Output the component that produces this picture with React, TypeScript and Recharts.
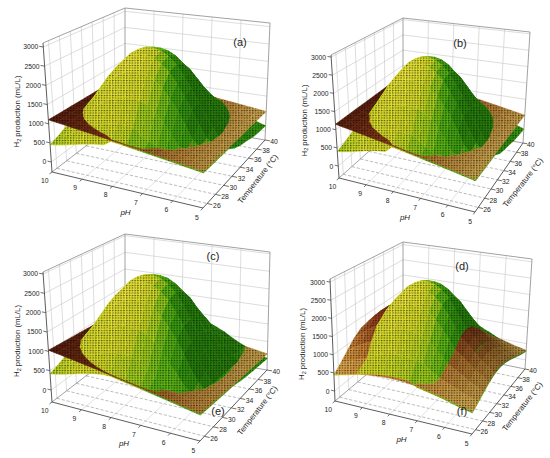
import React from 'react';
import { ScatterChart, Scatter, XAxis, YAxis } from 'recharts';

// ---------------- data ----------------
const PH_GRID = [5, 5.25, 5.5, 5.75, 6, 6.25, 6.5, 6.75, 7, 7.25, 7.5, 7.75, 8, 8.25, 8.5, 8.75, 9, 9.25, 9.5, 9.75, 10];
const T_GRID = [25, 26.5, 28, 29.5, 31, 32.5, 34, 35.5, 37, 38.5, 40];
const Z_TICKS = [0, 500, 1000, 1500, 2000, 2500, 3000];
const PH_TICKS = [10, 9, 8, 7, 6, 5];
const T_TICKS = [26, 28, 30, 32, 34, 36, 38, 40];

// flat comparison planes: rows [T=25, T=40], columns [pH=5, pH=10]  (mL/L)
const PLANE_CORNER_PH = [5, 10];
const PLANE_CORNER_T = [25, 40];
const PLANE_A = [[610, 1100], [560, 1050]];
const PLANE_B = [[480, 1150], [520, 1190]];
const PLANE_C = [[320, 1030], [150, 860]];

// fitted surfaces: rows follow T_GRID, columns follow PH_GRID  (mL/L)
const GREEN_A = [
  [580, 605, 629, 654, 678, 703, 727, 752, 776, 801, 825, 850, 874, 741, 718, 681, 636, 583, 530, 485, 448],
  [575, 600, 624, 649, 673, 698, 722, 780, 900, 1000, 1163, 1179, 1179, 1147, 1099, 1019, 923, 811, 700, 604, 524],
  [570, 595, 619, 644, 668, 760, 1000, 1280, 1480, 1630, 1716, 1743, 1743, 1688, 1607, 1470, 1307, 1116, 925, 762, 625],
  [565, 590, 614, 638, 800, 1150, 1480, 1760, 2000, 2173, 2268, 2307, 2307, 2230, 2114, 1922, 1690, 1421, 1151, 920, 727],
  [560, 585, 609, 720, 1030, 1390, 1720, 2020, 2298, 2479, 2591, 2636, 2636, 2546, 2410, 2185, 1914, 1598, 1282, 1012, 786],
  [420, 480, 576, 828, 1126, 1462, 1797, 2099, 2378, 2566, 2683, 2730, 2730, 2636, 2495, 2260, 1978, 1649, 1320, 1038, 803],
  [330, 420, 557, 799, 1084, 1404, 1724, 2012, 2278, 2457, 2568, 2613, 2613, 2523, 2389, 2166, 1898, 1586, 1273, 1005, 782],
  [280, 348, 501, 710, 957, 1232, 1506, 1751, 1978, 2129, 2222, 2260, 2260, 2185, 2072, 1884, 1658, 1395, 1132, 906, 718],
  [202, 296, 418, 581, 771, 978, 1185, 1369, 1539, 1648, 1716, 1743, 1743, 1688, 1607, 1470, 1307, 1116, 925, 762, 625],
  [171, 245, 335, 452, 585, 725, 865, 986, 1099, 1167, 1209, 1226, 1226, 1192, 1141, 1057, 955, 837, 718, 617, 532],
  [148, 207, 275, 358, 449, 540, 631, 708, 780, 817, 841, 850, 850, 831, 803, 756, 700, 634, 568, 512, 465],
];
const GREEN_B = [
  [450, 484, 517, 551, 584, 618, 651, 685, 718, 752, 785, 819, 852, 691, 668, 631, 586, 533, 480, 435, 398],
  [454, 488, 521, 555, 588, 621, 655, 740, 870, 980, 1113, 1129, 1129, 1097, 1049, 969, 873, 761, 650, 554, 474],
  [458, 492, 525, 559, 592, 700, 950, 1250, 1450, 1580, 1666, 1693, 1693, 1638, 1557, 1420, 1257, 1066, 875, 712, 575],
  [462, 496, 529, 562, 760, 1110, 1440, 1710, 1950, 2123, 2218, 2257, 2257, 2180, 2064, 1872, 1640, 1371, 1101, 870, 677],
  [466, 500, 533, 680, 990, 1340, 1670, 1970, 2248, 2429, 2541, 2586, 2586, 2496, 2360, 2135, 1864, 1548, 1232, 962, 736],
  [330, 420, 526, 778, 1076, 1412, 1747, 2049, 2328, 2516, 2633, 2680, 2680, 2586, 2445, 2210, 1928, 1599, 1270, 988, 753],
  [270, 360, 507, 749, 1034, 1354, 1674, 1962, 2228, 2407, 2518, 2563, 2563, 2473, 2339, 2116, 1848, 1536, 1223, 955, 732],
  [220, 298, 451, 660, 907, 1182, 1456, 1701, 1928, 2079, 2172, 2210, 2210, 2135, 2022, 1834, 1608, 1345, 1082, 856, 668],
  [152, 246, 368, 531, 721, 928, 1135, 1319, 1489, 1598, 1666, 1693, 1693, 1638, 1557, 1420, 1257, 1066, 875, 712, 575],
  [121, 195, 285, 402, 535, 675, 815, 936, 1049, 1117, 1159, 1176, 1176, 1142, 1091, 1007, 905, 787, 668, 567, 482],
  [98, 157, 225, 308, 399, 490, 581, 658, 730, 767, 791, 800, 800, 781, 753, 706, 650, 584, 518, 462, 415],
];
const GREEN_C = [
  [290, 326, 361, 397, 432, 468, 503, 539, 574, 610, 645, 681, 716, 711, 688, 651, 606, 553, 500, 455, 418],
  [273, 309, 344, 380, 415, 450, 560, 720, 880, 1000, 1133, 1149, 1149, 1117, 1069, 989, 893, 781, 670, 574, 494],
  [256, 292, 327, 362, 520, 760, 1000, 1260, 1460, 1600, 1686, 1713, 1713, 1658, 1577, 1440, 1277, 1086, 895, 732, 595],
  [239, 275, 310, 480, 760, 1120, 1450, 1730, 1970, 2143, 2238, 2277, 2277, 2200, 2084, 1892, 1660, 1391, 1121, 890, 697],
  [222, 257, 330, 560, 900, 1300, 1660, 1980, 2268, 2449, 2561, 2606, 2606, 2516, 2380, 2155, 1884, 1568, 1252, 982, 756],
  [205, 240, 320, 600, 960, 1360, 1730, 2050, 2348, 2536, 2653, 2700, 2700, 2606, 2465, 2230, 1948, 1619, 1290, 1008, 773],
  [150, 223, 300, 560, 900, 1300, 1660, 1960, 2248, 2427, 2538, 2583, 2583, 2493, 2359, 2136, 1868, 1556, 1243, 975, 752],
  [110, 190, 270, 480, 780, 1130, 1440, 1700, 1948, 2099, 2192, 2230, 2230, 2155, 2042, 1854, 1628, 1365, 1102, 876, 688],
  [80, 160, 240, 380, 600, 880, 1120, 1320, 1509, 1618, 1686, 1713, 1713, 1658, 1577, 1440, 1277, 1086, 895, 732, 595],
  [50, 130, 210, 300, 440, 620, 800, 940, 1069, 1137, 1179, 1196, 1196, 1162, 1111, 1027, 925, 807, 688, 587, 502],
  [20, 100, 180, 250, 340, 450, 570, 665, 750, 787, 811, 820, 820, 801, 773, 726, 670, 604, 538, 482, 435],
];
const GREEN_D = [
  [265, 305, 344, 395, 445, 488, 529, 567, 603, 730, 748, 756, 756, 741, 718, 681, 636, 583, 530, 485, 448],
  [355, 419, 483, 564, 645, 716, 835, 951, 1059, 1123, 1163, 1179, 1179, 1147, 1099, 1019, 923, 811, 700, 604, 524],
  [460, 553, 646, 764, 881, 984, 1185, 1369, 1539, 1648, 1716, 1743, 1743, 1688, 1607, 1470, 1307, 1116, 925, 762, 625],
  [564, 686, 807, 960, 1114, 1255, 1535, 1786, 2018, 2173, 2268, 2307, 2307, 2230, 2114, 1922, 1690, 1421, 1151, 920, 727],
  [641, 784, 926, 1106, 1286, 1442, 1739, 2029, 2298, 2479, 2591, 2636, 2636, 2546, 2410, 2185, 1914, 1598, 1282, 1012, 786],
  [670, 820, 970, 1160, 1350, 1515, 1797, 2099, 2378, 2566, 2683, 2730, 2730, 2636, 2495, 2260, 1978, 1649, 1320, 1038, 803],
  [641, 784, 926, 1106, 1286, 1442, 1724, 2012, 2278, 2457, 2568, 2613, 2613, 2523, 2389, 2166, 1898, 1586, 1273, 1005, 782],
  [564, 686, 807, 960, 1114, 1247, 1506, 1751, 1978, 2129, 2222, 2260, 2260, 2185, 2072, 1884, 1658, 1395, 1132, 906, 718],
  [460, 553, 646, 764, 881, 984, 1185, 1369, 1539, 1648, 1716, 1743, 1743, 1688, 1607, 1470, 1307, 1116, 925, 762, 625],
  [355, 419, 483, 564, 645, 716, 865, 986, 1099, 1167, 1209, 1226, 1226, 1192, 1141, 1057, 955, 837, 718, 617, 532],
  [265, 305, 344, 395, 445, 540, 631, 708, 780, 817, 841, 850, 850, 831, 803, 756, 700, 634, 568, 512, 465],
];
const BROWN_D = [
  [295, 335, 374, 425, 475, 518, 559, 597, 633, 658, 678, 687, 691, 683, 670, 650, 625, 588, 546, 496, 440],
  [385, 449, 513, 594, 675, 746, 812, 874, 931, 972, 1004, 1019, 1025, 1013, 991, 959, 919, 859, 791, 709, 620],
  [490, 583, 676, 794, 911, 1014, 1109, 1199, 1283, 1342, 1388, 1410, 1419, 1400, 1369, 1323, 1264, 1178, 1079, 961, 831],
  [594, 716, 837, 990, 1144, 1277, 1402, 1520, 1629, 1705, 1766, 1794, 1806, 1782, 1742, 1681, 1604, 1491, 1362, 1208, 1039],
  [671, 814, 956, 1136, 1316, 1472, 1619, 1757, 1885, 1975, 2046, 2079, 2093, 2065, 2018, 1946, 1856, 1724, 1572, 1392, 1193],
  [700, 850, 1000, 1190, 1380, 1545, 1700, 1845, 1980, 2075, 2150, 2185, 2200, 2170, 2120, 2045, 1950, 1810, 1650, 1460, 1250],
  [671, 814, 956, 1136, 1316, 1472, 1619, 1757, 1885, 1975, 2046, 2079, 2093, 2065, 2018, 1946, 1856, 1724, 1572, 1392, 1193],
  [594, 716, 837, 990, 1144, 1277, 1402, 1520, 1629, 1705, 1766, 1794, 1806, 1782, 1742, 1681, 1604, 1491, 1362, 1208, 1039],
  [490, 583, 676, 794, 911, 1014, 1109, 1199, 1283, 1342, 1388, 1410, 1419, 1400, 1369, 1323, 1264, 1178, 1079, 961, 831],
  [385, 449, 513, 594, 675, 746, 812, 874, 931, 972, 1004, 1019, 1025, 1013, 991, 959, 919, 859, 791, 709, 620],
  [295, 335, 374, 425, 475, 518, 559, 597, 633, 658, 678, 687, 691, 683, 670, 650, 625, 588, 546, 496, 440],
];

// ---------------- layout (view geometry of each panel) ----------------
type Pt = [number, number];
interface Geo { floor: Pt[]; top: Pt[]; zmin: number; zmax: number; }
const W = 550;
const H = 458;
const FONT = "'Liberation Sans', Arial, sans-serif";

// box corner order: (pH10,T25) (pH5,T25) (pH5,T40) (pH10,T40)
const GEO_A: Geo = { floor: [[52, 172], [203, 208], [265, 140], [125, 116]], top: [[43, 43], [205, 68], [270, 23], [125, 8]], zmin: -261, zmax: 3104 };
const GEO_B: Geo = { floor: [[339, 178], [475, 212], [523, 143], [403, 121]], top: [[331, 55], [477, 77], [530, 32], [403, 18]], zmin: -330, zmax: 3056 };
const GEO_C: Geo = { floor: [[52, 402], [200, 441], [267, 370], [125, 346]], top: [[43, 272], [202, 296], [270, 252], [125, 234]], zmin: -310, zmax: 3050 };
const GEO_D: Geo = { floor: [[335, 401], [472, 434], [525, 369], [403, 344]], top: [[330, 279], [474, 303], [532, 259], [403, 242]], zmin: -275, zmax: 3084 };

// a plane given by its corner values is one flat sheet, cut along the grid only for depth sorting
function planeSheet(c: number[][]): number[][] {
  return T_GRID.map((t) => {
    const a = (t - PLANE_CORNER_T[0]) / (PLANE_CORNER_T[1] - PLANE_CORNER_T[0]);
    return PH_GRID.map((ph) => {
      const b = (ph - PLANE_CORNER_PH[0]) / (PLANE_CORNER_PH[1] - PLANE_CORNER_PH[0]);
      return (c[0][0] * (1 - b) + c[0][1] * b) * (1 - a) + (c[1][0] * (1 - b) + c[1][1] * b) * a;
    });
  });
}

interface PanelDef { geo: Geo; green: number[][]; brown: number[][]; tag: string; tagPos: Pt; extra?: { text: string; pos: Pt }; }

const PANELS: PanelDef[] = [
  { geo: GEO_A, green: GREEN_A, brown: planeSheet(PLANE_A), tag: '(a)', tagPos: [240, 42] },
  { geo: GEO_B, green: GREEN_B, brown: planeSheet(PLANE_B), tag: '(b)', tagPos: [460, 43] },
  { geo: GEO_C, green: GREEN_C, brown: planeSheet(PLANE_C), tag: '(c)', tagPos: [213, 256], extra: { text: '(e)', pos: [218, 411] } },
  { geo: GEO_D, green: GREEN_D, brown: BROWN_D, tag: '(d)', tagPos: [462, 266], extra: { text: '(f)', pos: [462, 411] } },
];

// ---------------- projection helpers ----------------
const uOf = (ph: number) => (10 - ph) / 5;
const vOf = (t: number) => (t - 25) / 15;
const wOf = (g: Geo, z: number) => (z - g.zmin) / (g.zmax - g.zmin);

function bil(c: Pt[], u: number, v: number): Pt {
  const a = (1 - u) * (1 - v), b = u * (1 - v), cc = u * v, d = (1 - u) * v;
  return [
    c[0][0] * a + c[1][0] * b + c[2][0] * cc + c[3][0] * d,
    c[0][1] * a + c[1][1] * b + c[2][1] * cc + c[3][1] * d,
  ];
}
function P(g: Geo, u: number, v: number, w: number): Pt {
  const f = bil(g.floor, u, v);
  const t = bil(g.top, u, v);
  return [f[0] + (t[0] - f[0]) * w, f[1] + (t[1] - f[1]) * w];
}

type RGB = number[];
function ramp(stops: [number, RGB][], t: number): RGB {
  if (t <= stops[0][0]) return stops[0][1];
  for (let i = 1; i < stops.length; i++) {
    if (t <= stops[i][0]) {
      const [t0, c0] = stops[i - 1];
      const [t1, c1] = stops[i];
      const k = (t - t0) / (t1 - t0);
      return c0.map((v, j) => v + (c1[j] - v) * k);
    }
  }
  return stops[stops.length - 1][1];
}
const rgb = (c: RGB, f = 1) => `rgb(${c.map((v) => Math.max(0, Math.min(255, Math.round(v * f)))).join(',')})`;

const GREEN_STOPS: [number, RGB][] = [
  [0.1, [38, 124, 12]], [0.3, [56, 156, 16]], [0.48, [96, 186, 22]], [0.64, [164, 208, 30]], [0.8, [214, 220, 40]], [1, [234, 228, 58]],
];
const BROWN_STOPS: [number, RGB][] = [
  [0, [210, 172, 82]], [0.35, [180, 118, 48]], [0.65, [132, 58, 24]], [1, [88, 28, 12]],
];
const LIGHT = (() => { const l = [-0.42, -0.62, 0.66]; const n = Math.hypot(l[0], l[1], l[2]); return l.map((x) => x / n); })();

interface Seg { x: number; y: number; dx: number; dy: number; stroke: string; w: number; dash?: string; }
interface Lbl { x: number; y: number; text: string; size: number; anchor: string; rot?: number; italic?: boolean; sub?: boolean; }
interface Quad { x: number; y: number; pts: Pt[]; fill: string; depth: number; }
interface Vtx { u: number; v: number; zg: number; zb: number; d: number; }

const seg = (a: Pt, b: Pt, stroke: string, w: number, dash?: string): Seg => ({ x: a[0], y: a[1], dx: b[0] - a[0], dy: b[1] - a[1], stroke, w, dash });

// keep the part of a cell where (green - brown) has the wanted sign
function clipCell(vs: Vtx[], positive: boolean): Vtx[] {
  const inside = (q: Vtx) => (positive ? q.d >= 0 : q.d <= 0);
  const out: Vtx[] = [];
  for (let i = 0; i < vs.length; i++) {
    const a = vs[i];
    const b = vs[(i + 1) % vs.length];
    if (inside(a)) out.push(a);
    if (inside(a) !== inside(b)) {
      const t = a.d / (a.d - b.d);
      out.push({ u: a.u + (b.u - a.u) * t, v: a.v + (b.v - a.v) * t, zg: a.zg + (b.zg - a.zg) * t, zb: a.zb + (b.zb - a.zb) * t, d: 0 });
    }
  }
  return out;
}

function cellShade(g: Geo, vs: Vtx[], key: 'zg' | 'zb'): number {
  const x3 = vs.map((q) => [q.u * 166, q.v * 148, wOf(g, q[key]) * 150]);
  const d1 = [x3[2][0] - x3[0][0], x3[2][1] - x3[0][1], x3[2][2] - x3[0][2]];
  const d2 = [x3[3][0] - x3[1][0], x3[3][1] - x3[1][1], x3[3][2] - x3[1][2]];
  let n = [d1[1] * d2[2] - d1[2] * d2[1], d1[2] * d2[0] - d1[0] * d2[2], d1[0] * d2[1] - d1[1] * d2[0]];
  if (n[2] < 0) n = n.map((q) => -q);
  const nl = Math.hypot(n[0], n[1], n[2]) || 1;
  return (n[0] * LIGHT[0] + n[1] * LIGHT[1] + n[2] * LIGHT[2]) / nl;
}

function polyItem(g: Geo, vs: Vtx[], key: 'zg' | 'zb', fill: string): Quad | null {
  if (vs.length < 3) return null;
  const pts = vs.map((q) => P(g, q.u, q.v, wOf(g, q[key])));
  let area = 0;
  for (let i = 0; i < pts.length; i++) { const a = pts[i], b = pts[(i + 1) % pts.length]; area += a[0] * b[1] - b[0] * a[1]; }
  if (Math.abs(area) < 0.02) return null;
  const n = vs.length;
  const cu = vs.reduce((s, q) => s + q.u, 0) / n;
  const cv = vs.reduce((s, q) => s + q.v, 0) / n;
  const cw = vs.reduce((s, q) => s + wOf(g, q[key]), 0) / n;
  const x = pts.reduce((s, p) => s + p[0], 0) / n;
  const y = pts.reduce((s, p) => s + p[1], 0) / n;
  return { x, y, pts, fill, depth: -0.51 * cu + cv - 0.57 * cw };
}

function buildQuads(g: Geo, green: number[][], brown: number[][]): Quad[] {
  const out: Quad[] = [];
  const gl = Math.min(...green.flat()), gh = Math.max(...green.flat());
  const bl = Math.min(...brown.flat()), bh = Math.max(...brown.flat());
  for (let i = 0; i < T_GRID.length - 1; i++) {
    for (let j = 0; j < PH_GRID.length - 1; j++) {
      const idx: [number, number][] = [[i, j], [i, j + 1], [i + 1, j + 1], [i + 1, j]];
      const vs: Vtx[] = idx.map(([a, b]) => ({ u: uOf(PH_GRID[b]), v: vOf(T_GRID[a]), zg: green[a][b], zb: brown[a][b], d: green[a][b] - brown[a][b] }));
      const gI = cellShade(g, vs, 'zg');
      const bI = cellShade(g, vs, 'zb');
      const gz = (vs.reduce((s, q) => s + q.zg, 0) / 4 - gl) / (gh - gl || 1);
      const bz = (vs.reduce((s, q) => s + q.zb, 0) / 4 - bl) / (bh - bl || 1);
      const gFill = rgb(ramp(GREEN_STOPS, 0.78 * gI + 0.32 * gz - 0.05));
      const bFill = rgb(ramp(BROWN_STOPS, bz), 0.72 + 0.42 * Math.max(0, bI));
      const pos = clipCell(vs, true);
      const neg = clipCell(vs, false);
      const items = [
        polyItem(g, pos, 'zg', gFill),
        polyItem(g, neg, 'zg', gFill),
        polyItem(g, pos, 'zb', bFill),
        polyItem(g, neg, 'zb', bFill),
      ];
      for (const it of items) if (it) out.push(it);
    }
  }
  out.sort((a, b) => b.depth - a.depth);
  return out;
}

function buildBack(g: Geo): Seg[] {
  const s: Seg[] = [];
  const grid = '#c6c6c6';
  for (const t of T_TICKS) { const v = vOf(t); if (v < 1) s.push(seg(P(g, 0, v, 0), P(g, 0, v, 1), grid, 0.6)); }
  for (const z of Z_TICKS) {
    const w = wOf(g, z);
    s.push(seg(P(g, 0, 0, w), P(g, 0, 1, w), grid, 0.6));
    s.push(seg(P(g, 0, 1, w), P(g, 1, 1, w), grid, 0.6));
  }
  for (const ph of PH_TICKS) { const u = uOf(ph); if (u > 0 && u < 1) s.push(seg(P(g, u, 1, 0), P(g, u, 1, 1), grid, 0.6)); }
  for (const t of T_TICKS) { const v = vOf(t); if (v < 1) s.push(seg(P(g, 0, v, 0), P(g, 1, v, 0), '#8e8e8e', 0.6, '3.2 1.8')); }
  for (const ph of PH_TICKS) { const u = uOf(ph); if (u > 0 && u < 1) s.push(seg(P(g, u, 0, 0), P(g, u, 1, 0), '#cfcfcf', 0.6)); }
  const edge = '#8a8a8a';
  s.push(seg(P(g, 0, 1, 0), P(g, 0, 1, 1), edge, 0.8));
  s.push(seg(P(g, 1, 1, 0), P(g, 1, 1, 1), edge, 0.8));
  s.push(seg(P(g, 0, 0, 1), P(g, 0, 1, 1), edge, 0.8));
  s.push(seg(P(g, 0, 1, 1), P(g, 1, 1, 1), edge, 0.8));
  s.push(seg(P(g, 0, 0, 0), P(g, 0, 1, 0), edge, 0.8));
  s.push(seg(P(g, 0, 1, 0), P(g, 1, 1, 0), edge, 0.8));
  return s;
}

function buildFront(g: Geo): Seg[] {
  const s: Seg[] = [];
  const ax = '#4a4a4a';
  s.push(seg(P(g, 0, 0, 0), P(g, 0, 0, 1), ax, 0.9));
  s.push(seg(P(g, 0, 0, 0), P(g, 1, 0, 0), ax, 0.9));
  s.push(seg(P(g, 1, 0, 0), P(g, 1, 1, 0), ax, 0.9));
  for (const ph of PH_TICKS) { const u = uOf(ph); s.push(seg(P(g, u, 0, 0), P(g, u, -0.035, 0), ax, 0.8)); }
  for (const t of T_TICKS) { const v = vOf(t); s.push(seg(P(g, 1, v, 0), P(g, 1.035, v, 0), ax, 0.8)); }
  for (const z of Z_TICKS) { const w = wOf(g, z); s.push(seg(P(g, 0, 0, w), P(g, -0.025, 0, w), ax, 0.8)); }
  return s;
}

function buildLabels(p: PanelDef): Lbl[] {
  const g = p.geo;
  const l: Lbl[] = [];
  for (const z of Z_TICKS) { const q = P(g, 0, 0, wOf(g, z)); l.push({ x: q[0] - 5, y: q[1], text: String(z), size: 6.8, anchor: 'end' }); }
  for (const ph of PH_TICKS) { const q = P(g, uOf(ph), -0.1, 0); l.push({ x: q[0], y: q[1] + 2.5, text: String(ph), size: 6.8, anchor: 'middle' }); }
  for (const t of T_TICKS) { const q = P(g, 1.065, vOf(t), 0); l.push({ x: q[0], y: q[1], text: String(t), size: 6.8, anchor: 'middle' }); }
  const zm = P(g, 0, 0, 0.5);
  l.push({ x: zm[0] - 31, y: zm[1] + 4, text: 'H2 production (mL/L)', size: 7.8, anchor: 'middle', rot: -90, sub: true });
  const pm = P(g, 0.5, 0, 0);
  l.push({ x: pm[0] - 2, y: pm[1] + 22, text: 'pH', size: 8, anchor: 'middle', italic: true });
  const tm = P(g, 1, 0.5, 0);
  l.push({ x: tm[0] + 24, y: tm[1] + 5, text: 'Temperature (°C)', size: 7.8, anchor: 'middle', rot: -52 });
  l.push({ x: p.tagPos[0], y: p.tagPos[1], text: p.tag, size: 11, anchor: 'middle' });
  if (p.extra) l.push({ x: p.extra.pos[0], y: p.extra.pos[1], text: p.extra.text, size: 11, anchor: 'middle' });
  return l;
}

const BUILT = PANELS.map((p) => ({
  back: buildBack(p.geo),
  quads: buildQuads(p.geo, p.green, p.brown),
  front: buildFront(p.geo),
  labels: buildLabels(p),
}));

// ---------------- shapes ----------------
const DefsShape = () => (
  <defs>
    <pattern id="meshTex" width="2.8" height="2.5" patternUnits="userSpaceOnUse">
      <rect x="0" y="0" width="1.9" height="1" fill="#000" fillOpacity="0.5" />
      <rect x="0" y="0" width="0.8" height="2.5" fill="#000" fillOpacity="0.22" />
    </pattern>
  </defs>
);

const QuadShape = (props: any) => {
  const { cx, cy } = props;
  const d: Quad = props.payload ?? props;
  const pts = d.pts.map((p) => `${(cx + p[0] - d.x).toFixed(2)},${(cy + p[1] - d.y).toFixed(2)}`).join(' ');
  return (
    <g>
      <polygon points={pts} fill={d.fill} stroke={d.fill} strokeWidth={0.6} strokeLinejoin="round" />
      <polygon points={pts} fill="url(#meshTex)" />
    </g>
  );
};

const SegShape = (props: any) => {
  const { cx, cy } = props;
  const d: Seg = props.payload ?? props;
  return <line x1={cx} y1={cy} x2={cx + d.dx} y2={cy + d.dy} stroke={d.stroke} strokeWidth={d.w} strokeDasharray={d.dash} />;
};

const TextShape = (props: any) => {
  const { cx, cy } = props;
  const d: Lbl = props.payload ?? props;
  return (
    <text
      x={cx}
      y={cy}
      textAnchor={d.anchor as any}
      dominantBaseline="central"
      fontSize={d.size}
      fontFamily={FONT}
      fill="#1e1e1e"
      fontStyle={d.italic ? 'italic' : 'normal'}
      transform={d.rot ? `rotate(${d.rot} ${cx} ${cy})` : undefined}
    >
      {d.sub ? (
        <>
          H<tspan fontSize={d.size * 0.7} dy={2}>2</tspan>
          <tspan dy={-2}> production (mL/L)</tspan>
        </>
      ) : (
        d.text
      )}
    </text>
  );
};

export default function App() {
  return (
    <div style={{ position: 'absolute', left: 0, top: 0, width: W, height: H, background: '#fff', overflow: 'hidden' }}>
      <ScatterChart width={W} height={H} margin={{ top: 0, right: 0, bottom: 0, left: 0 }}>
        <XAxis type="number" dataKey="x" domain={[0, W]} hide allowDataOverflow />
        <YAxis type="number" dataKey="y" domain={[0, H]} hide reversed allowDataOverflow />
        <Scatter data={[{ x: 1, y: 1 }]} shape={DefsShape} isAnimationActive={false} />
        {BUILT.map((b, i) => [
          <Scatter key={`back${i}`} data={b.back} shape={SegShape} isAnimationActive={false} />,
          <Scatter key={`quad${i}`} data={b.quads} shape={QuadShape} isAnimationActive={false} />,
          <Scatter key={`front${i}`} data={b.front} shape={SegShape} isAnimationActive={false} />,
          <Scatter key={`lab${i}`} data={b.labels} shape={TextShape} isAnimationActive={false} />,
        ])}
      </ScatterChart>
    </div>
  );
}
